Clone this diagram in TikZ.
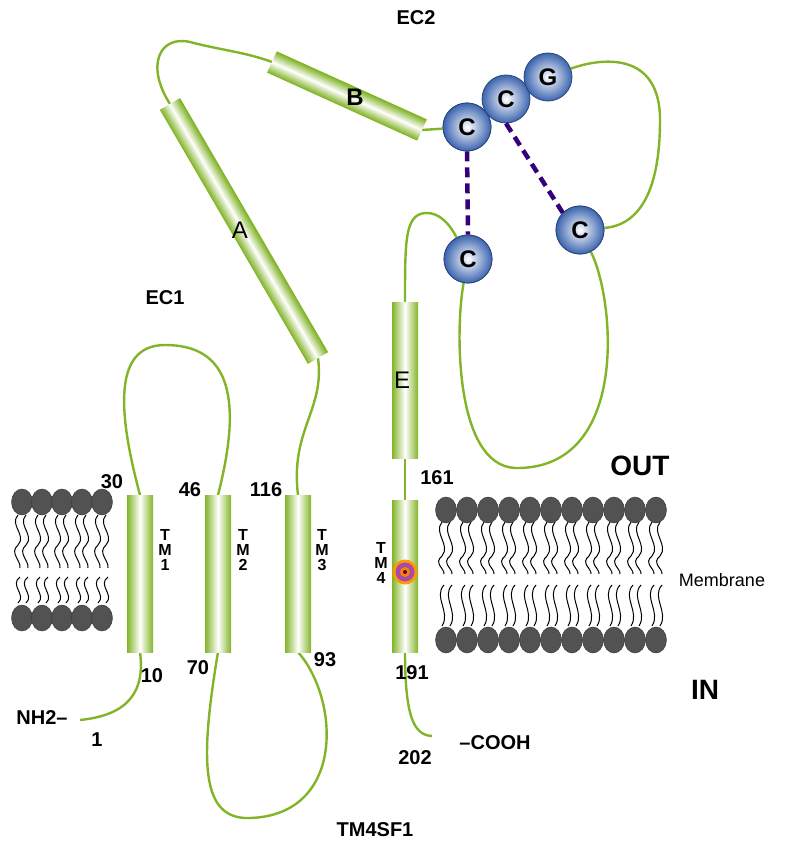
\documentclass[tikz,border=0pt]{standalone}
\usepackage{fontspec}
\setmainfont{Liberation Sans}
\usetikzlibrary{shapes.geometric,calc}
\definecolor{helix}{RGB}{130,180,40}
\definecolor{resblue}{RGB}{60,100,175}
\begin{document}
\begin{tikzpicture}[x=1pt,y=-1pt,
 loop/.style={draw=helix, line width=2.4pt},
 cyl/.style={draw=none,left color=helix,right color=helix,middle color=white},
 res/.style={circle,minimum size=48pt,inner sep=0pt,draw=resblue!70!black,line width=0.8pt,inner color=white,outer color=resblue,font=\fontsize{24}{26}\selectfont\bfseries},
 ss/.style={draw=violet!60!blue!70!black,line width=4.5pt,dash pattern=on 10pt off 6pt},
 head/.style={ellipse,minimum width=21pt,minimum height=26pt,fill=black!68,draw=black!80,inner sep=0pt},
 tail/.style={line width=1pt},
 lbl/.style={font=\fontsize{20}{22}\selectfont\bfseries},
 num/.style={font=\fontsize{20}{22}\selectfont\bfseries},
 tm/.style={font=\fontsize{16}{16}\selectfont\bfseries,align=center,inner sep=0pt}]
\useasboundingbox (0,0) rectangle (787,856);
% lipids
\foreach \x in {22,42,62,82,102}{
 \foreach \d in {-4,4}{
 \draw[tail] (\x+\d,515) .. controls (\x+\d-9,525) and (\x+\d+9,535) .. (\x+\d,545) .. controls (\x+\d-9,553) and (\x+\d+3,560) .. (\x+\d+2,568);
 \draw[tail] (\x+\d+2,577) .. controls (\x+\d-9,585) and (\x+\d+9,595) .. (\x+\d,603);}
 \node[head] (lt\x) at (\x,502) {}; \node[head] (lb\x) at (\x,618) {};}
\foreach \x in {446,467,488,509,530,551,572,593,614,635,656}{
 \foreach \d in {-4,4}{
 \draw[tail] (\x+\d,522) .. controls (\x+\d-9,533) and (\x+\d+9,545) .. (\x+\d,556) .. controls (\x+\d-9,563) and (\x+\d+3,569) .. (\x+\d+2,574);
 \draw[tail] (\x+\d+2,585) .. controls (\x+\d-9,597) and (\x+\d+9,612) .. (\x+\d,626);}
 \node[head] (rt\x) at (\x,510) {}; \node[head] (rb\x) at (\x,640) {};}
% coordinates
\coordinate (n1) at (80,720);
\coordinate (t1b) at (140,652); \coordinate (t1t) at (140,495);
\coordinate (t2b) at (218,652); \coordinate (t2t) at (218,495);
\coordinate (t3b) at (298,652); \coordinate (t3t) at (298,495);
\coordinate (t4b) at (405,652); \coordinate (t4t) at (405,500);
\coordinate (eb) at (405,458); \coordinate (et) at (405,302);
\coordinate (ab) at (318,358); \coordinate (at) at (170,104);
\coordinate (bs) at (272,62); \coordinate (be) at (422,130);
\coordinate (cterm) at (432,736);
% loops
\draw[loop] (n1) .. controls (130,715) and (145,690) .. (t1b);
\draw[loop] (t1t) .. controls (120,420) and (110,345) .. (165,345) .. controls (225,345) and (245,390) .. (t2t);
\draw[loop] (t2b) .. controls (200,760) and (200,820) .. (250,818) .. controls (345,815) and (340,700) .. (t3b);
\draw[loop] (t3t) .. controls (290,430) and (325,410) .. (ab);
\draw[loop] (at) .. controls (145,65) and (160,35) .. (190,42) .. controls (220,50) and (245,52) .. (bs);
\draw[loop] (eb) -- (t4t);
\draw[loop] (t4b) .. controls (405,720) and (415,735) .. (cterm);
% residues
\node[res] (c1) at (467,127) {C};
\node[res] (c2) at (506,99) {C};
\node[res] (g) at (548,77) {G};
\node[res] (c3) at (468,259) {C};
\node[res] (c4) at (580,230) {C};
\draw[loop] (be) -- (c1);
\draw[loop] (et) .. controls (405,240) and (405,215) .. (425,213) .. controls (440,212) and (450,225) .. (c3);
\draw[loop] (g) .. controls (600,58) and (660,50) .. (660,120) .. controls (660,190) and (640,225) .. (c4);
\draw[loop] (c4) .. controls (615,300) and (630,470) .. (515,468) .. controls (455,465) and (455,330) .. (c3);
\node[res] at (468,259) {C}; \node[res] at (580,230) {C}; \node[res] at (467,127) {C};
\draw[ss] (c1.south) -- (c3.north);
\draw[ss] (c2.south) -- (c4.north west);
% cylinders
\foreach \n/\x/\a/\b in {tm1/140/495/652,tm2/218/495/652,tm3/298/495/652,tm4/405/500/652,he/405/302/458}
 \shade[cyl] (\x-13,\a) rectangle (\x+13,\b);
\foreach \p/\q in {at/ab,bs/be}{
 \foreach \o in {-11,-10,...,11}{
  \pgfmathsetmacro{\w}{100-100*abs(\o)/11}
  \draw[draw=white!\w!helix,line width=1.4pt] ($(\p)!\o pt!90:(\q)$) -- ($(\q)!\o pt!-90:(\p)$);}}
% TM4 dot
\fill[orange!80!yellow] (405,572) circle (12.5);
\fill[violet!70] (405,572) circle (9.5);
\fill[orange] (405,572) circle (5);
\fill[violet!70!black] (405,572) circle (2);
% labels
\node[lbl] (ec2) at (416,18) {EC2};
\node[lbl] (ec1) at (165,298) {EC1};
\node[font=\fontsize{24}{26}\selectfont\bfseries\rmfamily] (lb) at (355,97) {B};
\node[font=\fontsize{24}{26}\selectfont\rmfamily] (la) at (240,230) {A};
\node[font=\fontsize{24}{26}\selectfont\rmfamily] (le) at (402,380) {E};
\node[font=\fontsize{28}{30}\selectfont\bfseries] (out) at (640,466) {OUT};
\node[font=\fontsize{28}{30}\selectfont\bfseries] (in) at (705,690) {IN};
\node[font=\fontsize{18}{20}\selectfont] (mem) at (722,580) {Membrane};
\foreach \x/\k in {165/1,243/2,322/3}
 \node[tm] at (\x,550) {T\\[-1pt]M\\[-1pt]\k};
\node[tm] at (381,563) {T\\[-1pt]M\\[-1pt]4};
\node[num] at (112,482) {30};
\node[num] at (190,490) {46};
\node[num] at (266,490) {116};
\node[num] at (437,478) {161};
\node[num] at (152,676) {10};
\node[num] at (198,668) {70};
\node[num] at (325,660) {93};
\node[num] at (412,673) {191};
\node[num] at (415,758) {202};
\node[num] at (97,740) {1};
\node[num] (nh2) at (42,718) {NH2--};
\node[num] (cooh) at (495,743) {--COOH};
\node[num] (tm4sf1) at (375,830) {TM4SF1};
\end{tikzpicture}
\end{document}
